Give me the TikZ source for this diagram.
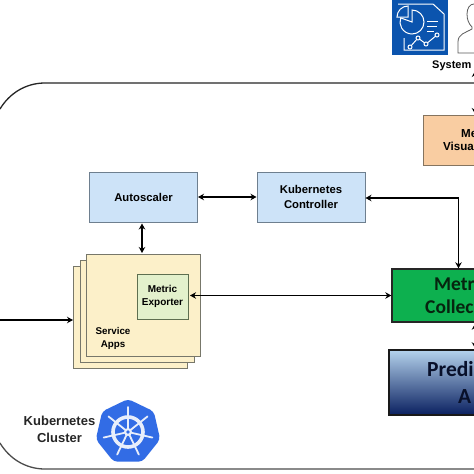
\documentclass[tikz,border=0pt]{standalone}
\usepackage{fontspec}
\setmainfont{Liberation Sans}
\newfontfamily\calfont{Carlito}
\usetikzlibrary{arrows.meta,calc}
\definecolor{bluefill}{HTML}{CDE3F8}
\definecolor{blueline}{HTML}{6E7F8F}
\definecolor{orangefill}{HTML}{F9CDA2}
\definecolor{orangeline}{HTML}{85745F}
\definecolor{greenfill}{HTML}{0DB04F}
\definecolor{creamfill}{HTML}{FCF0C9}
\definecolor{creamline}{HTML}{77776A}
\definecolor{limefill}{HTML}{E3F1CC}
\definecolor{limeline}{HTML}{5E6F50}
\definecolor{kube}{HTML}{326CE5}
\definecolor{kubewhite}{HTML}{E8EEFB}
\definecolor{iconblue}{HTML}{0B54AE}
\definecolor{predtop}{HTML}{B4D2EC}
\definecolor{predmid}{HTML}{5F8CBC}
\definecolor{predbot}{HTML}{0A2060}
\definecolor{colltext}{HTML}{06240F}
\definecolor{predtext}{HTML}{08102A}
\tikzset{
 x=1pt,y=-1pt,
 box/.style={draw,line width=1pt,inner sep=0pt,align=center,minimum width=#1},
 bluebox/.style={box=108pt,minimum height=50pt,fill=bluefill,draw=blueline,font=\fontsize{11.3}{14.5}\selectfont\bfseries},
 appbox/.style={box=114pt,minimum height=102pt,fill=creamfill,draw=creamline},
 lbl/.style={inner sep=0pt,anchor=base west},
 arr/.style={line width=1.5pt,-{Stealth[length=6pt,width=6.5pt]}},
 biarr/.style={line width=1.5pt,{Stealth[length=6pt,width=6.5pt]}-{Stealth[length=6pt,width=6.5pt]}},
 icon/.style={white,line width=1pt},
}
\begin{document}
\begin{tikzpicture}
\useasboundingbox (0,0) rectangle (474,474);
\clip (0,0) rectangle (474,474);
\fill[white] (0,0) rectangle (474,474);
% cluster outline
\draw[line width=1.3pt,black!85] (560,83) -- (45,83) .. controls (25,83) and (9,94) .. (0,109);
\draw[line width=1.3pt,black!70] (560,469) -- (45,469) .. controls (25,469) and (9,458) .. (0,443);
% boxes
\node[bluebox] (auto) at (143.5,197) {Autoscaler};
\node[bluebox] (ctrl) at (311,197) {Kubernetes\\Controller};
\node[appbox] (app3) at (130.5,317.5) {};
\node[appbox] (app2) at (137,311) {};
\node[appbox] (app1) at (143.5,305) {};
\node[box=51pt,minimum height=45pt,fill=limefill,draw=limeline,font=\fontsize{10}{12.8}\selectfont\bfseries] (exp) at (162.5,296.5) {Metric\\Exporter};
\node[inner sep=0pt,align=center,font=\fontsize{9.8}{13}\selectfont\bfseries] (svc) at (113,338.5) {Service\\Apps};
\node[box=102pt,minimum height=50pt,fill=orangefill,draw=orangeline] (viz) at (474,140) {};
\node[box=164pt,minimum height=53pt,fill=greenfill,draw=black!85,line width=1.4pt] (coll) at (474,295.5) {};
\node[box=170pt,minimum height=65pt,draw=black!90,line width=1.5pt,top color=predtop,middle color=predmid,bottom color=predbot] (pred) at (474,382.5) {};
% labels cut by the picture edge
\node[lbl,font=\fontsize{11.6}{14}\selectfont\bfseries] (vizA) at (461,137) {Me};
\node[lbl,font=\fontsize{11.6}{14}\selectfont\bfseries] (vizB) at (443,150) {Visua};
\node[lbl,font=\calfont\fontsize{19.5}{22}\selectfont\bfseries,text=colltext] (collA) at (434,290) {Metr};
\node[lbl,font=\calfont\fontsize{19.5}{22}\selectfont\bfseries,text=colltext] (collB) at (425,313) {Collec};
\node[lbl,font=\calfont\fontsize{21.5}{24}\selectfont\bfseries,text=predtext] (predA) at (427,376) {Predi};
\node[lbl,font=\calfont\fontsize{21.5}{24}\selectfont\bfseries,text=predtext] (predB) at (458,403) {A};
\node[lbl,font=\fontsize{11}{13}\selectfont\bfseries] (sys) at (432,68) {System};
\node[inner sep=0pt,align=center,font=\fontsize{13}{17}\selectfont\bfseries,text=black!85] (kc) at (59.5,429) {Kubernetes\\Cluster};
% connectors
\coordinate (corner) at (458.5,198);
\coordinate (left) at (0,320);
\coordinate (usr) at (475,71);
\draw[biarr] (auto.east) -- (ctrl.west);
\draw[biarr] ($(auto.south)+(-1.5,1)$) -- ($(app1.north)+(-1.5,-0.5)$);
\draw[arr] (corner) -- (ctrl.east |- corner);
\draw[arr] (corner) -- (corner |- coll.north);
\draw[biarr] ($(exp.east |- coll.west)+(1.5,0)$) -- (coll.west);
\draw[arr] (left) -- (app3.west |- left);
\draw[biarr] ($(viz.north)+(1,-0.5)$) -- (usr);
\draw[biarr] ($(coll.south)+(1,1)$) -- ($(pred.north)+(1,-1)$);
% report icon
\fill[iconblue] (392,0) rectangle (448,55);
\draw[icon] (398,4) -- (433,4) -- (444,14) -- (444,50) -- (404,50) -- (404,38);
\draw[icon,fill=iconblue] (412,10) arc[start angle=90,end angle=-200,radius=12pt] -- (412,22) -- cycle;
\draw[icon,fill=iconblue] (397,17) arc[start angle=180,end angle=90,radius=11pt] -- (408,17) -- cycle;
\draw[icon,line width=1.2pt] (427,21.5) -- (438,21.5) (427,26.5) -- (437,26.5) (427,31.5) -- (434,31.5);
\draw[icon] (410,47) -- (418,38) -- (426,44) -- (437,35);
\foreach \p in {(410,47),(418,38),(426,44),(437,35)} \draw[icon,fill=iconblue] \p circle[radius=2pt];
% person
\draw[line width=0.8pt,black!65] (474,4) .. controls (470,4) and (467,8) .. (467,14) .. controls (467,20) and (469,24) .. (472,27) -- (472,29) .. controls (465,33) and (458,34) .. (458,42) -- (458,53) -- (475,53);
% logo
\begin{scope}[shift={(128,432)},y=1pt]
\fill[kube,rounded corners=4pt] (90:33pt) -- (141.43:33pt) -- (192.86:33pt) -- (244.29:33pt) -- (295.71:33pt) -- (347.14:33pt) -- (38.57:33pt) -- cycle;
\draw[kubewhite,line width=3.6pt] (0,0) circle[radius=15pt];
\foreach \a in {90,141.43,192.86,244.29,295.71,347.14,38.57}
  {\draw[kubewhite,line width=1.8pt,line cap=round] (\a:3pt) -- (\a:25pt);}
\foreach \a in {115.7,167.1,218.6,270,321.4,12.9,64.3}
  {\fill[kube] (\a:9pt) circle[radius=1pt];}
\fill[kubewhite] (0,0) circle[radius=4pt];
\fill[kube] (0,0) circle[radius=1.8pt];
\end{scope}
\end{tikzpicture}
\end{document}
